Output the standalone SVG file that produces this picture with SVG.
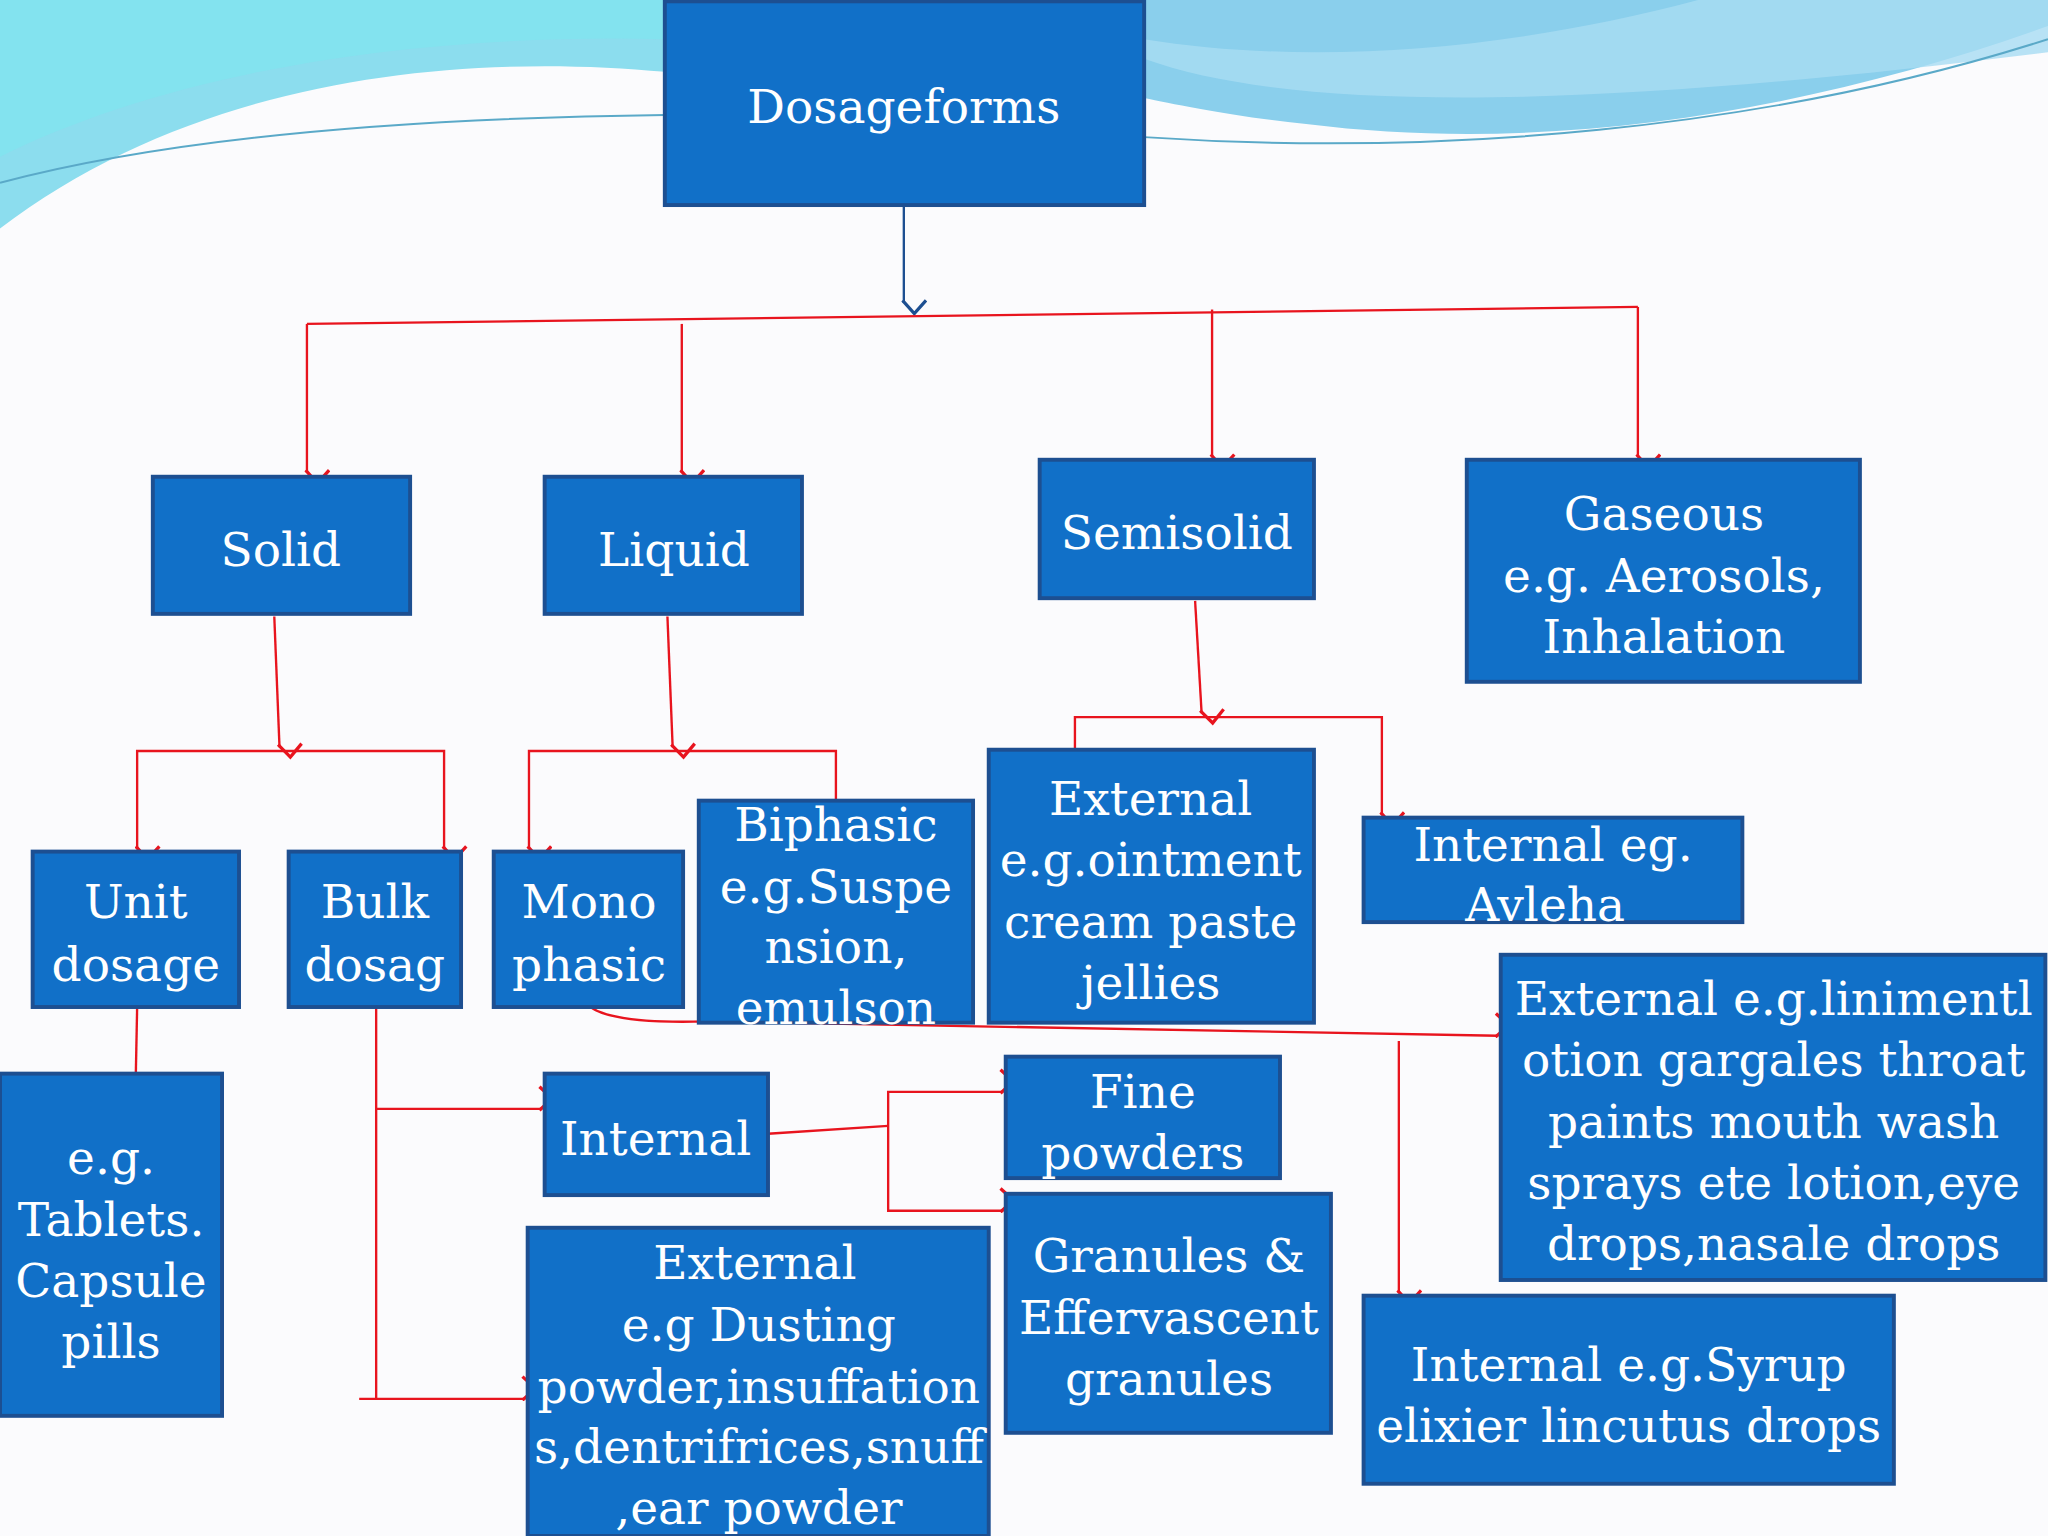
<svg xmlns="http://www.w3.org/2000/svg" width="2048" height="1536" viewBox="0 0 2048 1536">
<defs>
<style>
.b{fill:#1170C8;stroke:#1D4F91;stroke-width:3}
.t{font-family:"DejaVu Serif","Liberation Serif",serif;font-size:36px;fill:#fff;text-anchor:middle}
.r{fill:none;stroke:#E8141E;stroke-width:1.8}
</style>
<marker id="a" viewBox="0 0 20 20" refX="10" refY="18" markerWidth="20" markerHeight="20" markerUnits="userSpaceOnUse" orient="auto-start-reverse"><path d="M1,8 L10,18 L19,8" fill="none" stroke="#E8141E" stroke-width="2.5" transform="rotate(-90 10 10)"/></marker>
<marker id="ab" viewBox="0 0 20 20" refX="10" refY="18" markerWidth="20" markerHeight="20" markerUnits="userSpaceOnUse" orient="auto"><path d="M1,8 L10,18 L19,8" fill="none" stroke="#1D4F91" stroke-width="2.5" transform="rotate(-90 10 10)"/></marker>
</defs>
<rect width="2048" height="1536" fill="#FBFBFD"/>
<g transform="scale(1.30612)">
<g id="wave">
<path d="M0,0 L509,0 L509,55 C350,40 150,60 0,175 Z" fill="#8CDDEE"/>
<path d="M0,0 L509,0 L509,30 C300,25 120,60 0,120 Z" fill="#7FE6F0" opacity="0.7"/>
<path d="M876,0 L1568,0 L1568,20 C1400,80 1200,120 1000,95 C950,90 900,80 876,75 Z" fill="#8ACFEC"/>
<path d="M876,45 C1000,90 1250,80 1568,40 L1568,0 L1300,0 C1150,40 1000,50 876,30 Z" fill="#A7DCF2" opacity="0.8"/>
<path d="M0,140 C150,100 350,90 509,88" fill="none" stroke="#5AA9C8" stroke-width="1.5"/>
<path d="M876,105 C1100,120 1350,100 1568,30" fill="none" stroke="#5AA9C8" stroke-width="1.5"/>
</g>
<g id="connectors">
<path d="M692,157 L692,232" fill="none" stroke="#1D4F91" stroke-width="1.8" marker-end="url(#ab)"/>
<path class="r" d="M235,248 L1254,235"/>
<path class="r" d="M235,248 L235,362" marker-end="url(#a)"/>
<path class="r" d="M522,248 L522,362" marker-end="url(#a)"/>
<path class="r" d="M928,237 L928,350" marker-end="url(#a)"/>
<path class="r" d="M1254,235 L1254,350" marker-end="url(#a)"/>
<path class="r" d="M210,472 L214,572" marker-end="url(#a)"/>
<path class="r" d="M105,650 L105,575 L340,575 L340,650" marker-start="url(#a)" marker-end="url(#a)"/>
<path class="r" d="M511,472 L515,572" marker-end="url(#a)"/>
<path class="r" d="M405,650 L405,575 L640,575 L640,613" marker-start="url(#a)"/>
<path class="r" d="M915,460 L920,546" marker-end="url(#a)"/>
<path class="r" d="M823,574 L823,549 L1058,549 L1058,624" marker-end="url(#a)"/>
<path class="r" d="M105,771 L104,822"/>
<path class="r" d="M288,771 L288,1071"/>
<path class="r" d="M288,849 L415,849" marker-end="url(#a)"/>
<path class="r" d="M275,1071 L402,1071" marker-end="url(#a)"/>
<path class="r" d="M588,868 L680,862"/>
<path class="r" d="M768,836 L680,836 L680,927 L768,927" marker-start="url(#a)" marker-end="url(#a)"/>
<path class="r" d="M452,771 Q470,784 540,782 L1147,793" marker-end="url(#a)"/>
<path class="r" d="M1071,797 L1071,990" marker-end="url(#a)"/>
</g>
<g id="dosageforms"><rect class="b" x="509" y="1" width="367" height="156"/><text class="t" x="692" y="94">Dosageforms</text></g>
<g id="solid"><rect class="b" x="117" y="365" width="197" height="105"/><text class="t" x="215" y="433">Solid</text></g>
<g id="liquid"><rect class="b" x="417" y="365" width="197" height="105"/><text class="t" x="516" y="433">Liquid</text></g>
<g id="semisolid"><rect class="b" x="796" y="352" width="210" height="106"/><text class="t" x="901" y="420">Semisolid</text></g>
<g id="gaseous"><rect class="b" x="1123" y="352" width="301" height="170"/><text class="t" x="1274" y="406">Gaseous</text><text class="t" x="1274" y="453">e.g. Aerosols,</text><text class="t" x="1274" y="500">Inhalation</text></g>
<g id="unit"><rect class="b" x="25" y="652" width="158" height="119"/><text class="t" x="104" y="703">Unit</text><text class="t" x="104" y="751">dosage</text></g>
<g id="bulk"><rect class="b" x="221" y="652" width="132" height="119"/><text class="t" x="287" y="703">Bulk</text><text class="t" x="287" y="751">dosag</text></g>
<g id="mono"><rect class="b" x="378" y="652" width="145" height="119"/><text class="t" x="451" y="703">Mono</text><text class="t" x="451" y="751">phasic</text></g>
<g id="biphasic"><rect class="b" x="535" y="613" width="210" height="170"/><text class="t" x="640" y="644">Biphasic</text><text class="t" x="640" y="691">e.g.Suspe</text><text class="t" x="640" y="737">nsion,</text><text class="t" x="640" y="784">emulson</text></g>
<g id="extsemi"><rect class="b" x="757" y="574" width="249" height="209"/><text class="t" x="881" y="624">External</text><text class="t" x="881" y="671">e.g.ointment</text><text class="t" x="881" y="718">cream paste</text><text class="t" x="881" y="765">jellies</text></g>
<g id="intsemi"><rect class="b" x="1044" y="626" width="290" height="80"/><text class="t" x="1189" y="659">Internal eg.</text><text class="t" x="1183" y="705">Avleha</text></g>
<g id="extliq"><rect class="b" x="1149" y="731" width="417" height="249"/><text class="t" x="1358" y="777">External e.g.linimentl</text><text class="t" x="1358" y="824">otion gargales throat</text><text class="t" x="1358" y="871">paints mouth wash</text><text class="t" x="1358" y="918">sprays ete lotion,eye</text><text class="t" x="1358" y="965">drops,nasale drops</text></g>
<g id="tablets"><rect class="b" x="0" y="822" width="170" height="262"/><text class="t" x="85" y="899">e.g.</text><text class="t" x="85" y="946">Tablets.</text><text class="t" x="85" y="993">Capsule</text><text class="t" x="85" y="1040">pills</text></g>
<g id="internal"><rect class="b" x="417" y="822" width="171" height="93"/><text class="t" x="502" y="884">Internal</text></g>
<g id="fine"><rect class="b" x="770" y="809" width="210" height="93"/><text class="t" x="875" y="848">Fine</text><text class="t" x="875" y="895">powders</text></g>
<g id="granules"><rect class="b" x="770" y="914" width="249" height="183"/><text class="t" x="895" y="974">Granules &amp;</text><text class="t" x="895" y="1021">Effervascent</text><text class="t" x="895" y="1068">granules</text></g>
<g id="extsolid"><rect class="b" x="404" y="940" width="353" height="236"/><text class="t" x="578" y="979">External</text><text class="t" x="581" y="1027">e.g Dusting</text><text class="t" x="581" y="1074">powder,insuffation</text><text class="t" x="581" y="1120">s,dentrifrices,snuff</text><text class="t" x="581" y="1167">,ear powder</text></g>
<g id="syrup"><rect class="b" x="1044" y="992" width="406" height="144"/><text class="t" x="1247" y="1057">Internal e.g.Syrup</text><text class="t" x="1247" y="1104">elixier lincutus drops</text></g>
</g>
</svg>
